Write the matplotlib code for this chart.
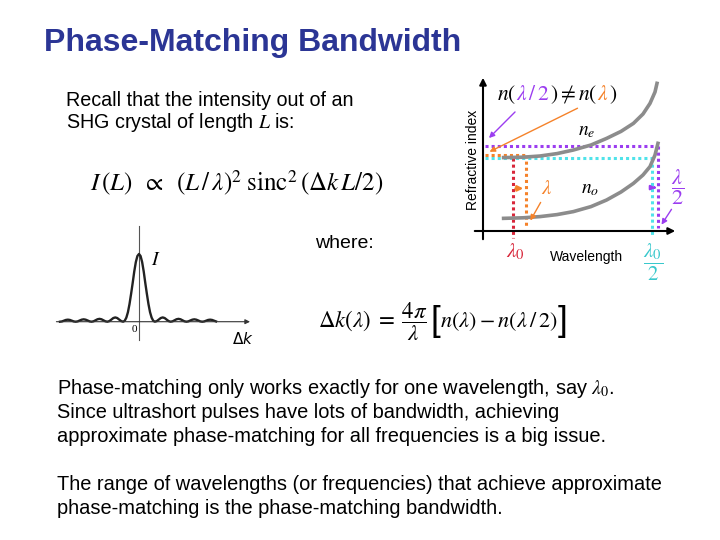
import matplotlib
matplotlib.use("Agg")
import matplotlib.pyplot as plt

plt.rcParams['font.family'] = ['Liberation Sans', 'DejaVu Sans']
plt.rcParams['mathtext.fontset'] = 'stix'

# colours
title_col = '#2B3595'
purple = '#9B3DF0'
orange = '#F5822A'
cyan = '#4FE3EA'
red = '#D8263A'
grey = '#8C8C8C'

# sinc^2 curve (x in units of zero spacing)
sinc_x = [-5.0, -4.875, -4.75, -4.625, -4.5, -4.375, -4.25, -4.125,
          -4.0, -3.875, -3.75, -3.625, -3.5, -3.375, -3.25, -3.125,
          -3.0, -2.875, -2.75, -2.625, -2.5, -2.375, -2.25, -2.125,
          -2.0, -1.875, -1.75, -1.625, -1.5, -1.375, -1.25, -1.125,
          -1.0, -0.9, -0.8, -0.7, -0.6, -0.5, -0.4, -0.3, -0.2, -0.1,
          0.0, 0.1, 0.2, 0.3, 0.4, 0.5, 0.6, 0.7, 0.8, 0.9, 1.0,
          1.125, 1.25, 1.375, 1.5, 1.625, 1.75, 1.875, 2.0,
          2.125, 2.25, 2.375, 2.5, 2.625, 2.75, 2.875, 3.0,
          3.125, 3.25, 3.375, 3.5, 3.625, 3.75, 3.875, 4.0,
          4.125, 4.25, 4.375, 4.5, 4.625, 4.75, 4.875]
sinc_y = [0.0, 0.004, 0.015, 0.026, 0.03, 0.026, 0.015, 0.004,
          0.0, 0.005, 0.018, 0.030, 0.035, 0.030, 0.018, 0.005,
          0.0, 0.006, 0.021, 0.036, 0.042, 0.036, 0.021, 0.006,
          0.0, 0.009, 0.031, 0.054, 0.063, 0.054, 0.031, 0.009,
          0.0, 0.015, 0.06, 0.14, 0.26, 0.41, 0.57, 0.74, 0.88, 0.97,
          1.0, 0.97, 0.88, 0.74, 0.57, 0.41, 0.26, 0.14, 0.06, 0.015, 0.0,
          0.009, 0.031, 0.054, 0.063, 0.054, 0.031, 0.009, 0.0,
          0.006, 0.021, 0.036, 0.042, 0.036, 0.021, 0.006, 0.0,
          0.005, 0.018, 0.030, 0.035, 0.030, 0.018, 0.005, 0.0,
          0.004, 0.015, 0.026, 0.03, 0.026, 0.015, 0.004]

# dispersion curves (arbitrary units)
ne_x = [0.94, 2.0, 2.85, 3.7, 4.52, 5.4, 6.18, 6.9, 7.52, 8.0, 8.35, 8.6, 8.72]
ne_y = [3.67, 3.69, 3.75, 3.87, 4.05, 4.3, 4.63, 4.98, 5.38, 5.85, 6.38, 6.95, 7.47]
no_x = [0.94, 2.0, 2.85, 3.7, 4.52, 5.4, 6.18, 6.9, 7.52, 8.0, 8.35, 8.6, 8.77]
no_y = [0.63, 0.66, 0.72, 0.82, 0.97, 1.22, 1.55, 1.95, 2.38, 2.8, 3.22, 3.8, 4.47]

# wavelengths / index levels for the dotted guides
lam0 = 1.48
lam = 2.15
lam0_half = 8.43
lam_half = 8.77
n_lam0 = 3.67
n_lam = 3.8
n_lam_half = 4.25
n_cyan = 3.63

body = [
    "Phase-matching only works exactly for one wavelength, say $\\lambda_0$.",
    "Since ultrashort pulses have lots of bandwidth, achieving",
    "approximate phase-matching for all frequencies is a big issue.",
    "",
    "The range of wavelengths (or frequencies) that achieve approximate",
    "phase-matching is the phase-matching bandwidth.",
]

fig = plt.figure(figsize=(7.2, 5.4), dpi=100)
bg = fig.add_axes([0, 0, 1, 1])
bg.set_xlim(0, 720)
bg.set_ylim(540, 0)
bg.axis('off')

bg.text(44, 43, "Phase-Matching Bandwidth", fontsize=23, fontweight='bold',
        color=title_col, va='center')
bg.text(66, 100, "Recall that the intensity out of an", fontsize=14.2, va='center')
bg.text(66, 123, "SHG crystal of length $L$ is:", fontsize=14.2, va='center')
bg.text(90, 183, r"$I\,(L)\;\;\propto\;\;(L\,/\,\lambda)^2\;\mathrm{sinc}^2\,(\Delta k\,L/2)$",
        fontsize=18, va='center')
bg.text(315, 243, "where:", fontsize=14, va='center')

# delta k equation, with tall square brackets
e1 = bg.text(318, 322, r"$\Delta k(\lambda)\;=\;\dfrac{4\pi}{\lambda}$", fontsize=16.5, va='center')
e2 = bg.annotate("[", xy=(1, 0.5), xycoords=e1, xytext=(2, 0), textcoords='offset points',
                 fontsize=25, va='center')
e3 = bg.annotate(r"$n(\lambda)-n(\lambda\,/\,2)$", xy=(1, 0.5), xycoords=e2,
                 fontsize=16, va='center')
bg.annotate("]", xy=(1, 0.5), xycoords=e3, fontsize=25, va='center')

for i, line in enumerate(body):
    bg.text(57, 389 + 24 * i, line, fontsize=14.4, va='center')

# small sinc^2 plot
ax1 = fig.add_axes([50 / 720, 1 - 345 / 540, 208 / 720, 120 / 540])
ax1.set_xlim(-5.63, 7.53)
ax1.set_ylim(-0.344, 1.428)
ax1.axis('off')
ax1.annotate('', xy=(7.2, 0), xytext=(-5.4, 0),
             arrowprops=dict(arrowstyle='-|>', lw=0.8, color='#333333', mutation_scale=7))
ax1.plot([0, 0], [-0.27, 1.42], color='#555555', lw=0.8)
ax1.plot(sinc_x, sinc_y, color='#222222', lw=1.7)
ax1.text(0.75, 0.9, "$I$", fontsize=14, va='center')
ax1.text(-0.3, -0.12, "0", fontsize=8, family='Liberation Serif', ha='center', va='center')
ax1.text(6.6, -0.26, r"$\mathit{\Delta k}$", fontsize=11, ha='center', va='center',
         math_fontfamily='dejavusans')

# dispersion diagram
ax2 = fig.add_axes([465 / 720, 1 - 280 / 540, 235 / 720, 215 / 540])
ax2.set_xlim(-0.9, 10.85)
ax2.set_ylim(-2.45, 8.3)
ax2.axis('off')
ax2.annotate('', xy=(0, 7.8), xytext=(0, -0.55),
             arrowprops=dict(arrowstyle='-|>', lw=1.5, color='black', mutation_scale=10))
ax2.annotate('', xy=(9.75, 0), xytext=(-0.55, 0),
             arrowprops=dict(arrowstyle='-|>', lw=1.5, color='black', mutation_scale=10))

dots = dict(lw=2.2, dashes=(1, 1))
ax2.plot([0.1, lam_half], [n_lam_half, n_lam_half], color=purple, **dots)
ax2.plot([lam_half, lam_half], [n_lam_half, 0.15], color=purple, **dots)
ax2.plot([0.1, lam0_half], [n_cyan, n_cyan], color=cyan, **dots)
ax2.plot([lam0_half, lam0_half], [n_cyan, -0.2], color=cyan, **dots)
ax2.plot([0.1, lam], [n_lam, n_lam], color=orange, **dots)
ax2.plot([lam, lam], [n_lam, 0.15], color=orange, **dots)
ax2.plot([lam0, lam0], [n_lam0, -0.35], color=red, **dots)

ax2.plot(ne_x, ne_y, color=grey, lw=2.6, solid_capstyle='butt')
ax2.plot(no_x, no_y, color=grey, lw=2.6, solid_capstyle='butt')

arr = dict(arrowstyle='-|>', lw=1.0, mutation_scale=8)
ax2.annotate('', xy=(0.2, 4.55), xytext=(1.7, 6.05), arrowprops=dict(color=purple, **arr))
ax2.annotate('', xy=(0.2, 3.9), xytext=(4.85, 6.2), arrowprops=dict(color=orange, **arr))
ax2.annotate('', xy=(2.3, 0.4), xytext=(2.95, 1.55), arrowprops=dict(color=orange, **arr))
ax2.annotate('', xy=(8.85, 0.2), xytext=(9.5, 1.2), arrowprops=dict(color=purple, **arr))
ax2.annotate('', xy=(lam, 2.13), xytext=(lam0, 2.13),
             arrowprops=dict(arrowstyle='-|>', lw=1.6, color=orange, mutation_scale=8))
ax2.annotate('', xy=(lam_half, 2.17), xytext=(lam0_half, 2.17),
             arrowprops=dict(arrowstyle='-|>', lw=1.6, color=purple, mutation_scale=6))

# n(lambda/2) != n(lambda), coloured pieces on one baseline
base = 6.55
t1 = ax2.text(0.7, base, r"$n($", fontsize=15.5, va='baseline')
t2 = ax2.annotate(r"$\lambda\,/\,2$", xy=(1, base), xycoords=(t1, 'data'),
                  fontsize=15.5, color=purple, va='baseline')
t3 = ax2.annotate(r"$)\neq n($", xy=(1, base), xycoords=(t2, 'data'), fontsize=15.5, va='baseline')
t4 = ax2.annotate(r"$\lambda$", xy=(1, base), xycoords=(t3, 'data'),
                  fontsize=15.5, color=orange, va='baseline')
ax2.annotate(r"$)$", xy=(1, base), xycoords=(t4, 'data'), fontsize=15.5, va='baseline')

ax2.text(5.2, 4.95, r"$n_e$", fontsize=14, ha='center', va='center')
ax2.text(5.35, 2.05, r"$n_o$", fontsize=14, ha='center', va='center')
ax2.text(3.2, 2.15, r"$\lambda$", fontsize=15, color=orange, ha='center', va='center')
ax2.text(9.75, 2.2, r"$\dfrac{\lambda}{2}$", fontsize=16, color=purple, ha='center', va='center')
ax2.text(8.5, -1.55, r"$\dfrac{\lambda_0}{2}$", fontsize=15, color='#38C8CC', ha='center', va='center')
ax2.text(1.6, -1.05, r"$\lambda_0$", fontsize=15, color=red, ha='center', va='center')
ax2.text(5.2, -1.3, "Wavelength", fontsize=10, ha='center', va='center')
ax2.text(-0.5, 3.55, "Refractive index", fontsize=10, rotation=90, ha='center', va='center')

fig.savefig("out.png", dpi=100)
